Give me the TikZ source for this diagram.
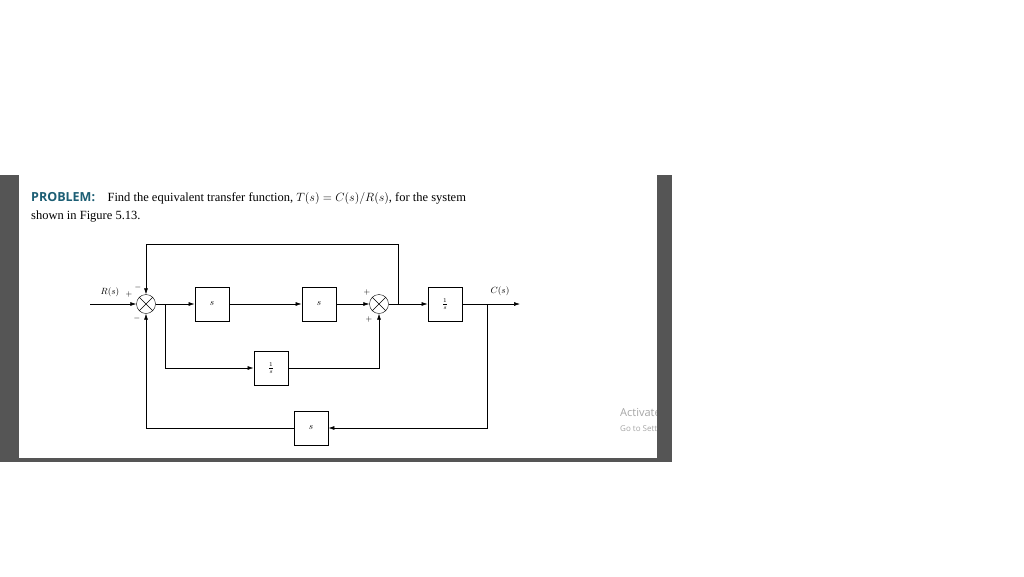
\documentclass[tikz,border=0pt]{standalone}
\usepackage{fontspec}
\setmainfont{Liberation Serif}
\newfontfamily\probfont{Open Sans}
\usetikzlibrary{arrows.meta}
\definecolor{teal1}{HTML}{1C5E74}
\definecolor{grayb}{HTML}{555555}
\begin{document}
\begin{tikzpicture}[x=1pt,y=-1pt,
  blk/.style={draw,line width=0.9pt,minimum width=34pt,minimum height=34pt,inner sep=0pt,font=\fontsize{9}{10}\selectfont},
  sumj/.style={draw,circle,minimum size=19pt,inner sep=0pt},
  sig/.style={font=\fontsize{8}{9}\selectfont,inner sep=0pt},
  ln/.style={line width=0.6pt},
  ar/.style={ln,-{Latex[length=6pt,width=4pt]}}]
\useasboundingbox (0,0) rectangle (1024,576);
\fill[white] (0,0) rectangle (1024,576);
\fill[grayb] (0,175) rectangle (19,462);
\fill[grayb] (657,175) rectangle (672,462);
\fill[grayb] (0,458) rectangle (672,462);
\node[anchor=west,inner sep=0pt] (t1) at (31,198) {\fontsize{12.5}{14}\selectfont{\probfont\bfseries\color{teal1}PROBLEM:}\quad Find the equivalent transfer function, $T(s)=C(s)/R(s)$, for the system};
\node[anchor=west,inner sep=0pt] (t2) at (31,217) {\fontsize{12.5}{14}\selectfont shown in Figure 5.13.};
% nodes
\node[sumj] (s1) at (146,304) {};
\draw[ln] (s1.45)--(s1.225) (s1.135)--(s1.315);
\node[blk] (b1) at (212,304) {$s$};
\node[blk] (b2) at (319,304) {$s$};
\node[sumj] (s2) at (379,304) {};
\draw[ln] (s2.45)--(s2.225) (s2.135)--(s2.315);
\node[blk] (b3) at (445,304) {$\frac{1}{s}$};
\node[blk] (b4) at (271,368) {$\frac{1}{s}$};
\node[blk] (b5) at (311,428) {$s$};
\coordinate (in) at (90,304);
\coordinate (out) at (520,304);
\coordinate (tapA) at (165,304);
\coordinate (tapB) at (398,304);
\coordinate (tapC) at (487,304);
% connectors
\draw[ar] (in) -- (s1);
\draw[ar] (s1) -- (b1);
\draw[ar] (b1) -- (b2);
\draw[ar] (b2) -- (s2);
\draw[ar] (s2) -- (b3);
\draw[ar] (b3) -- (out);
\draw[ar] (tapB) |- (146,244) -- (s1.north);
\draw[ar] (tapA) |- (b4.west);
\draw[ar] (b4.east) -| (s2.south);
\draw[ar] (tapC) |- (b5.east);
\draw[ar] (b5.west) -| (s1.south);
% labels
\node[sig,font=\fontsize{9}{10}\selectfont] (lr) at (110,292) {$R(s)$};
\node[sig] (p1) at (129,294) {$+$};
\node[sig] (m1) at (138,287) {$-$};
\node[sig] (m2) at (137,318) {$-$};
\node[sig] (p2) at (367,292) {$+$};
\node[sig] (p3) at (369,319) {$+$};
\node[sig,font=\fontsize{9}{10}\selectfont] (lc) at (500,291) {$C(s)$};
\node[anchor=west,inner sep=0pt,text=gray!70,font=\probfont\fontsize{11}{12}\selectfont] (a1) at (620,413) {Activate};
\node[anchor=west,inner sep=0pt,text=gray!70,font=\probfont\fontsize{8}{9}\selectfont] (a2) at (620,430) {Go to Settings};
\fill[grayb] (657,400) rectangle (672,440);
\fill[white] (672,400) rectangle (700,440);
\end{tikzpicture}
\end{document}
